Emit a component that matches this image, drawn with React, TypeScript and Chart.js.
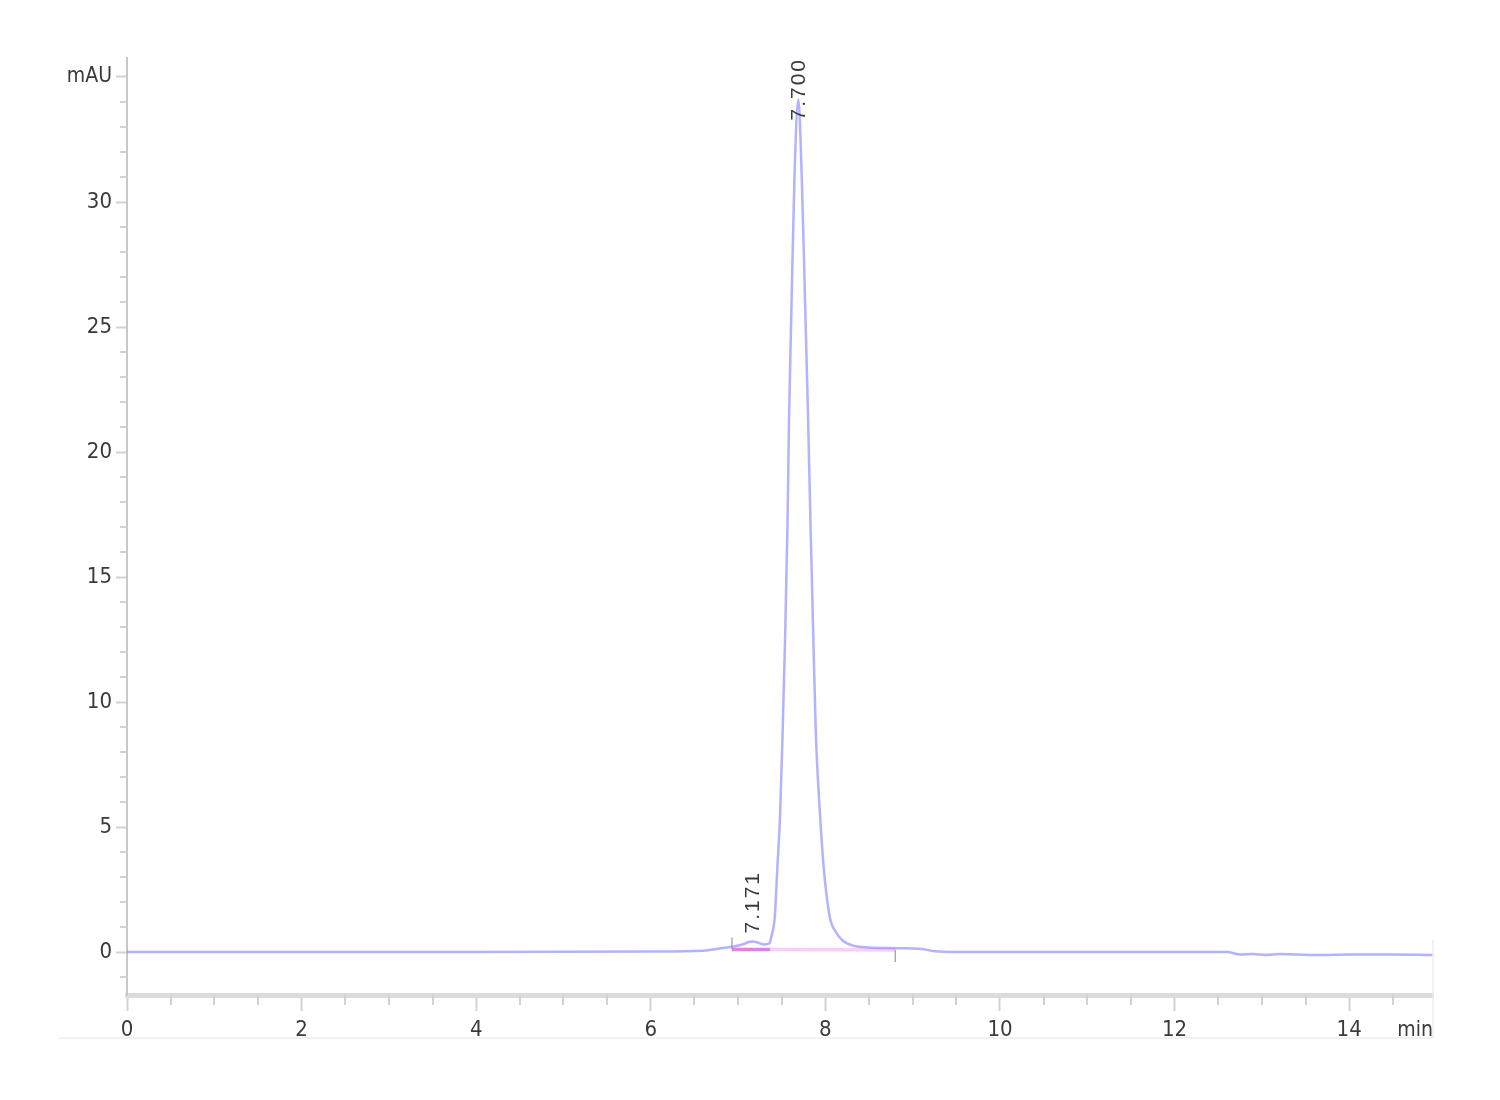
import { useEffect, useRef } from "react";
import { Chart, registerables } from "chart.js";

Chart.register(...registerables);

// retention time (min) / absorbance (mAU)
const traceTimes = [
  0, 2, 4, 6, 6.6, 6.8, 6.95, 7.05, 7.12, 7.17, 7.22, 7.3, 7.36, 7.38, 7.42,
  7.45, 7.48, 7.51, 7.54, 7.565, 7.585, 7.61, 7.645, 7.69, 7.73, 7.77, 7.8,
  7.83, 7.86, 7.89, 7.94, 7.98, 8.05, 8.12, 8.2, 8.32, 8.5, 8.8, 9.1, 9.25,
  9.5, 10, 11, 12, 12.6, 12.75, 12.9, 13.05, 13.2, 13.4, 13.7, 14, 14.5, 14.96,
];
const traceValues = [
  0, 0, 0, 0.02, 0.05, 0.15, 0.22, 0.3, 0.4, 0.42, 0.38, 0.3, 0.35, 0.6, 1.4,
  3.4, 5.4, 8.8, 12.8, 17, 21.6, 25.6, 30.9, 34.1, 30.9, 25.6, 21.6, 17, 12.8,
  8.8, 5.4, 3.4, 1.4, 0.8, 0.45, 0.25, 0.18, 0.15, 0.12, 0.03, 0, 0, 0, 0, 0,
  -0.1, -0.08, -0.12, -0.08, -0.1, -0.12, -0.1, -0.1, -0.12,
];

// integration baseline
const baselineTimes = [6.93, 7.37, 8.8];
const baselineValues = [0.1, 0.1, 0.08];

// peak annotations
const peakTimes = [7.171, 7.7];
const peakHeights = [0.42, 34.1];
const peakLabels = ["7.171", "7.700"];

const xMajorTicks = [0, 2, 4, 6, 8, 10, 12, 14];
const yMajorTicks = [0, 5, 10, 15, 20, 25, 30, 35];
const xUnit = "min";
const yUnit = "mAU";

const X_MIN = 0;
const X_MAX = 14.96;
const Y_MIN = -1.72;
const Y_MAX = 35.76;

const FONT = '"Liberation Sans Narrow", "DejaVu Sans Condensed", Arial, sans-serif';
const TEXT_COLOR = "#3a3a3a";
const TICK_COLOR = "#d2d2d2";

const decorations = {
  id: "decorations",
  afterDraw(chart: any) {
    const { ctx, chartArea } = chart;
    const xs = chart.scales.x;
    const ys = chart.scales.y;
    ctx.save();

    // minor ticks
    ctx.strokeStyle = TICK_COLOR;
    ctx.lineWidth = 2;
    ctx.beginPath();
    for (let v = 0.5; v < X_MAX; v += 0.5) {
      if (Math.abs(v % 2) < 1e-6) continue;
      const px = Math.round(xs.getPixelForValue(v));
      ctx.moveTo(px, chartArea.bottom);
      ctx.lineTo(px, chartArea.bottom + 10);
    }
    for (let v = -1; v < Y_MAX; v += 1) {
      if (v % 5 === 0) continue;
      const py = Math.round(ys.getPixelForValue(v));
      ctx.moveTo(chartArea.left - 7, py);
      ctx.lineTo(chartArea.left, py);
    }
    ctx.stroke();

    // faint frame at bottom / right
    ctx.strokeStyle = "#ededed";
    ctx.lineWidth = 1.5;
    ctx.beginPath();
    ctx.moveTo(chartArea.left - 68, chartArea.bottom + 43);
    ctx.lineTo(chartArea.right, chartArea.bottom + 43);
    ctx.moveTo(chartArea.right, chartArea.bottom - 55);
    ctx.lineTo(chartArea.right, chartArea.bottom + 43);
    ctx.stroke();

    // baseline end marks
    ctx.strokeStyle = "#9a9a9a";
    ctx.lineWidth = 1.2;
    ctx.beginPath();
    const bx0 = xs.getPixelForValue(baselineTimes[0]);
    const by0 = ys.getPixelForValue(baselineValues[0]);
    ctx.moveTo(bx0, by0);
    ctx.lineTo(bx0, by0 - 12);
    const n = baselineTimes.length - 1;
    const bx1 = xs.getPixelForValue(baselineTimes[n]);
    const by1 = ys.getPixelForValue(baselineValues[n]);
    ctx.moveTo(bx1, by1);
    ctx.lineTo(bx1, by1 + 12);
    ctx.stroke();

    // unit label on x axis
    ctx.fillStyle = TEXT_COLOR;
    ctx.font = `21px ${FONT}`;
    ctx.textAlign = "right";
    ctx.textBaseline = "top";
    ctx.fillText(xUnit, chartArea.right, chartArea.bottom + 25);

    // rotated peak labels
    ctx.font = "21px Arial, sans-serif";
    (ctx as any).letterSpacing = "2px";
    ctx.textAlign = "left";
    ctx.textBaseline = "middle";
    peakLabels.forEach((label, i) => {
      const px = xs.getPixelForValue(peakTimes[i]);
      const apex = ys.getPixelForValue(peakHeights[i]);
      const len = ctx.measureText(label).width;
      let start = apex - 8;
      if (start - len < chartArea.top) start = chartArea.top + len;
      ctx.save();
      ctx.translate(px, start);
      ctx.rotate(-Math.PI / 2);
      ctx.fillText(label, 0, 0);
      ctx.restore();
    });

    ctx.restore();
  },
};

export default function App() {
  const canvasRef = useRef<HTMLCanvasElement>(null);

  useEffect(() => {
    if (!canvasRef.current) return;

    const chart = new Chart(canvasRef.current, {
      type: "line",
      data: {
        datasets: [
          {
            label: "signal",
            data: traceTimes.map((t, i) => ({ x: t, y: traceValues[i] })),
            borderColor: "rgba(115, 115, 255, 0.55)",
            borderWidth: 2.5,
            pointRadius: 0,
            cubicInterpolationMode: "monotone",
          },
          {
            label: "baseline",
            data: baselineTimes.map((t, i) => ({ x: t, y: baselineValues[i] })),
            borderColor: "#fbcdfb",
            borderWidth: 3.5,
            pointRadius: 0,
            segment: {
              borderColor: (ctx: any) => (ctx.p0DataIndex === 0 ? "#e57fe5" : "#fbcdfb"),
            },
          },
        ],
      },
      options: {
        animation: false,
        responsive: false,
        devicePixelRatio: 1,
        layout: { padding: { top: 58, right: 67, left: 0, bottom: 0 } },
        plugins: { legend: { display: false }, tooltip: { enabled: false } },
        scales: {
          x: {
            type: "linear",
            min: X_MIN,
            max: X_MAX,
            afterFit: (scale: any) => {
              scale.height = 105;
            },
            afterBuildTicks: (scale: any) => {
              scale.ticks = xMajorTicks.map((v) => ({ value: v }));
            },
            border: { color: "#dcdcdc", width: 5 },
            grid: {
              drawOnChartArea: false,
              tickLength: 16,
              tickColor: TICK_COLOR,
              tickWidth: 2,
            },
            ticks: {
              autoSkip: false,
              maxRotation: 0,
              padding: 6,
              color: TEXT_COLOR,
              font: { family: FONT, size: 22 },
              callback: (v: any) => String(v),
            },
          },
          y: {
            type: "linear",
            min: Y_MIN,
            max: Y_MAX,
            afterFit: (scale: any) => {
              scale.width = 127;
            },
            afterBuildTicks: (scale: any) => {
              scale.ticks = yMajorTicks.map((v) => ({ value: v }));
            },
            border: { color: "#c8c8c8", width: 2 },
            grid: {
              drawOnChartArea: false,
              tickLength: 11,
              tickColor: TICK_COLOR,
              tickWidth: 2,
            },
            ticks: {
              autoSkip: false,
              padding: 4,
              color: TEXT_COLOR,
              font: (ctx: any) => ({ family: FONT, size: ctx.tick && ctx.tick.value === 35 ? 21 : 22 }),
              callback: (v: any) => (v === 35 ? yUnit : String(v)),
            },
          },
        },
      },
      plugins: [decorations],
    });

    return () => chart.destroy();
  }, []);

  return (
    <div style={{ position: "absolute", left: 0, top: 0, width: 1500, height: 1100, background: "#fff" }}>
      <canvas ref={canvasRef} width={1500} height={1100} />
    </div>
  );
}
